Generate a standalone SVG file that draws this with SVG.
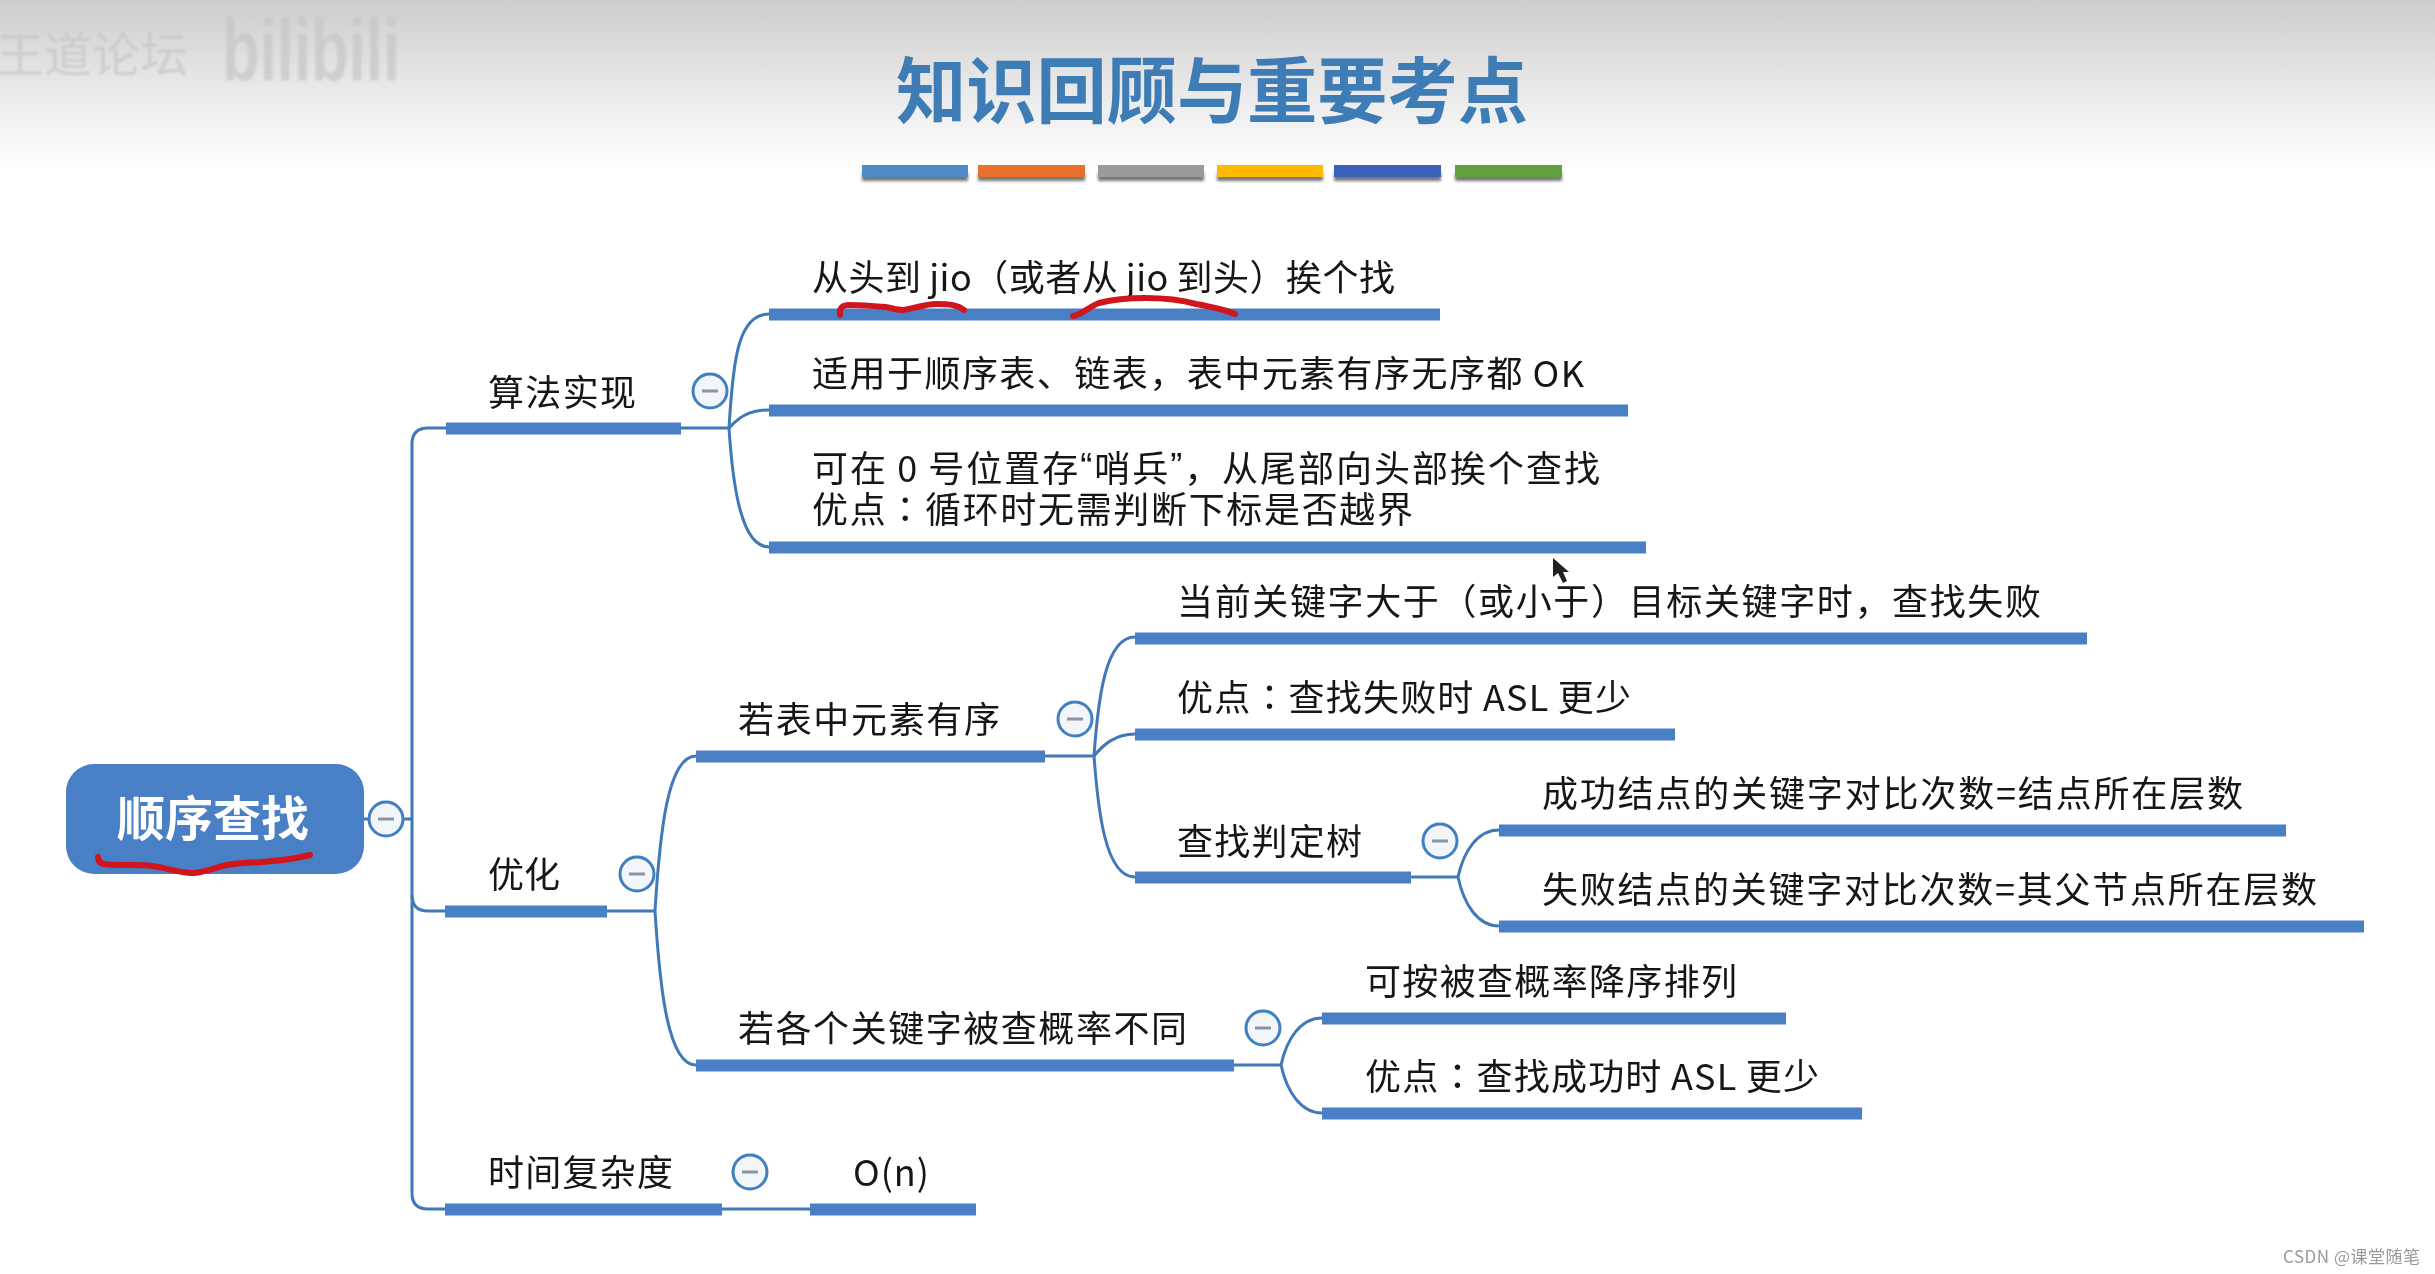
<svg xmlns="http://www.w3.org/2000/svg" width="2435" height="1274" viewBox="0 0 2435 1274">
<defs>
<linearGradient id="hdr" x1="0" y1="0" x2="0" y2="1"><stop offset="0" stop-color="#cdcdcd"/><stop offset="0.5" stop-color="#e8e8e8"/><stop offset="1" stop-color="#ffffff"/></linearGradient>
<filter id="blur1" x="-5%" y="-50%" width="110%" height="200%"><feGaussianBlur stdDeviation="1.6"/></filter>
<filter id="soft" x="-5%" y="-5%" width="110%" height="110%"><feGaussianBlur stdDeviation="0.8"/></filter>
<filter id="video" x="0" y="0" width="2435" height="1274" filterUnits="userSpaceOnUse"><feGaussianBlur stdDeviation="0.5"/></filter>
</defs>
<style>
text{font-family:"Noto Sans CJK SC","Liberation Sans",sans-serif;}
.t{font-size:36px;fill:#151515;dominant-baseline:central;}
.tc{font-family:"Noto Sans CJK TC","Liberation Sans",sans-serif;}
.q{font-family:"Liberation Sans",sans-serif;}
.bar{fill:#4a7fc4;}
.thin{fill:none;stroke:#3f78b8;stroke-width:3;}
.c{fill:#f2f5fa;stroke:#3f7fc0;stroke-width:3;}
.m{stroke:#8a94a4;stroke-width:3;}
.red{fill:none;stroke:#d0141c;stroke-width:6;stroke-linecap:round;stroke-linejoin:round;}
</style>
<rect width="2435" height="1274" fill="#ffffff"/>
<rect width="2435" height="172" fill="url(#hdr)"/>
<g id="watermark" fill="#c6c6c6" opacity="0.7" filter="url(#soft)">
<text x="-4" y="72" font-size="48">王道论坛</text>
<text x="222" y="80" font-size="88" font-weight="700" textLength="178" lengthAdjust="spacingAndGlyphs" style="font-family:'Liberation Sans',sans-serif">bilibili</text>
</g>
<g id="diagram" filter="url(#video)">
<g id="title">
<text x="1212" y="85" font-size="72" font-weight="700" fill="#3e7cb4" text-anchor="middle" dominant-baseline="central" textLength="632" lengthAdjust="spacingAndGlyphs">知识回顾与重要考点</text>
</g>
<g id="colorbars">
<g fill="#777777" filter="url(#blur1)"><rect x="862" y="173" width="106" height="8"/><rect x="978" y="173" width="107" height="8"/><rect x="1098" y="173" width="106" height="8"/><rect x="1217" y="173" width="106" height="8"/><rect x="1334" y="173" width="107" height="8"/><rect x="1455" y="173" width="107" height="8"/></g>
<rect x="862" y="165" width="106" height="12" fill="#4d8cc8"/>
<rect x="978" y="165" width="107" height="12" fill="#e8702a"/>
<rect x="1098" y="165" width="106" height="12" fill="#9a9a9a"/>
<rect x="1217" y="165" width="106" height="12" fill="#ffb900"/>
<rect x="1334" y="165" width="107" height="12" fill="#3b62b8"/>
<rect x="1455" y="165" width="107" height="12" fill="#62a03f"/>
</g>
<g id="connectors">
<path class="thin" d="M364 819H412"/>
<path class="thin" d="M446 428H428Q412 428 412 444V1193Q412 1209 428 1209H446"/>
<path class="thin" d="M412 895Q412 911 428 911H446"/>
<path class="thin" d="M681 428H729"/>
<path class="thin" d="M729 428C733 360 738 314 769 314"/>
<path class="thin" d="M729 428C738 418 748 410 769 410"/>
<path class="thin" d="M729 428C733 490 742 547 769 547"/>
<path class="thin" d="M607 911H655"/>
<path class="thin" d="M655 911C660 830 668 756 696 756"/>
<path class="thin" d="M655 911C660 990 668 1065 696 1065"/>
<path class="thin" d="M1045 756H1094"/>
<path class="thin" d="M1094 756C1098 700 1105 637 1135 637"/>
<path class="thin" d="M1094 756C1103 745 1115 734 1135 734"/>
<path class="thin" d="M1094 756C1098 810 1105 877 1135 877"/>
<path class="thin" d="M1411 877H1458"/>
<path class="thin" d="M1458 877C1464 850 1478 830 1499 830"/>
<path class="thin" d="M1458 877C1464 905 1478 926 1499 926"/>
<path class="thin" d="M1234 1065H1281"/>
<path class="thin" d="M1281 1065C1287 1038 1301 1018 1322 1018"/>
<path class="thin" d="M1281 1065C1287 1092 1301 1113 1322 1113"/>
<path class="thin" d="M722 1209H810"/>
</g>
<g id="root">
<rect x="66" y="764" width="298" height="110" rx="28" fill="#4a7fc4"/>
<text x="213" y="815" font-size="48" font-weight="700" fill="#ffffff" text-anchor="middle" dominant-baseline="central" textLength="192">顺序查找</text>
<circle class="c" cx="386" cy="819" r="17"/><path class="m" d="M378 819H394"/>
</g>
<g id="n1"><rect class="bar" x="446" y="422.500" width="235" height="12"/><text class="t" x="488" y="390" textLength="148">算法实现</text><circle class="c" cx="710" cy="391" r="17"/><path class="m" d="M702 391H718"/></g>
<g id="n2"><rect class="bar" x="445" y="905.500" width="162" height="12"/><text class="t" x="488" y="872" textLength="72">优化</text><circle class="c" cx="637" cy="874" r="17"/><path class="m" d="M629 874H645"/></g>
<g id="n3"><rect class="bar" x="445" y="1203.500" width="277" height="12"/><text class="t" x="488" y="1170" textLength="185">时间复杂度</text><circle class="c" cx="750" cy="1172" r="17"/><path class="m" d="M742 1172H758"/></g>
<g id="n3a"><rect class="bar" x="810" y="1203.500" width="166" height="12"/><text class="t" x="853" y="1170" textLength="76">O(n)</text></g>
<g id="n1a"><rect class="bar" x="769" y="308.500" width="671" height="12"/><text class="t" x="812" y="275" textLength="583">从头到&#8201;jio（或者从&#8201;jio&#8201;到头）挨个找</text></g>
<g id="n1b"><rect class="bar" x="769" y="404.500" width="859" height="12"/><text class="t" x="812" y="371" textLength="772">适用于顺序表、链表，表中元素有序无序都&#8201;OK</text></g>
<g id="n1c"><rect class="bar" x="769" y="541.500" width="877" height="12"/><text class="t" x="812" y="466" textLength="788">可在&#8201;0&#8201;号位置存<tspan class="q">“</tspan>哨兵<tspan class="q">”</tspan>，从尾部向头部挨个查找</text><text class="t" x="812" y="507" textLength="601">优点<tspan class="tc">：</tspan>循环时无需判断下标是否越界</text></g>
<g id="n2a"><rect class="bar" x="696" y="750.500" width="349" height="12"/><text class="t" x="738" y="717" textLength="262">若表中元素有序</text><circle class="c" cx="1075" cy="719" r="17"/><path class="m" d="M1067 719H1083"/></g>
<g id="n2b"><rect class="bar" x="696" y="1059.500" width="538" height="12"/><text class="t" x="738" y="1026" textLength="449">若各个关键字被查概率不同</text><circle class="c" cx="1263" cy="1028" r="17"/><path class="m" d="M1255 1028H1271"/></g>
<g id="n2a1"><rect class="bar" x="1135" y="632.500" width="952" height="12"/><text class="t" x="1177" y="599" textLength="864">当前关键字大于（或小于）目标关键字时，查找失败</text></g>
<g id="n2a2"><rect class="bar" x="1135" y="728.500" width="540" height="12"/><text class="t" x="1177" y="695" textLength="454">优点<tspan class="tc">：</tspan>查找失败时&#8201;ASL&#8201;更少</text></g>
<g id="n2a3"><rect class="bar" x="1135" y="871.500" width="276" height="12"/><text class="t" x="1177" y="839" textLength="185">查找判定树</text><circle class="c" cx="1440" cy="841" r="17"/><path class="m" d="M1432 841H1448"/></g>
<g id="n2a3a"><rect class="bar" x="1499" y="824.500" width="787" height="12"/><text class="t" x="1542" y="791" textLength="701">成功结点的关键字对比次数=结点所在层数</text></g>
<g id="n2a3b"><rect class="bar" x="1499" y="920.500" width="865" height="12"/><text class="t" x="1542" y="887" textLength="775">失败结点的关键字对比次数=其父节点所在层数</text></g>
<g id="n2b1"><rect class="bar" x="1322" y="1012.500" width="464" height="12"/><text class="t" x="1365" y="979" textLength="372">可按被查概率降序排列</text></g>
<g id="n2b2"><rect class="bar" x="1322" y="1107.500" width="540" height="12"/><text class="t" x="1365" y="1074" textLength="454">优点<tspan class="tc">：</tspan>查找成功时&#8201;ASL&#8201;更少</text></g>
<g id="annotations">
<path class="red" d="M98 857Q98 863 104 864C120 866 138 864 152 866C168 868 182 874 194 873C206 872 216 867 227 865C242 862 258 863 272 861C286 860 298 858 310 855"/>
<path class="red" d="M840 315C839 308 842 305 850 305C862 305 874 306 885 307C892 308 897 310 903 310C912 309 925 304 936 304C950 304 958 305 964 310"/>
<path class="red" d="M1073 316C1082 315 1088 307 1099 303C1115 299 1130 298 1145 298C1165 298 1182 300 1196 304C1212 307 1226 310 1235 314"/>
<path d="M1553 558V577L1558 573L1563 583L1567 581L1563 572L1569 572Z" fill="#222222"/>
</g>
<text x="2283" y="1255" font-size="17" fill="#999999" dominant-baseline="central" textLength="137">CSDN @课堂随笔</text>
</g>
</svg>
